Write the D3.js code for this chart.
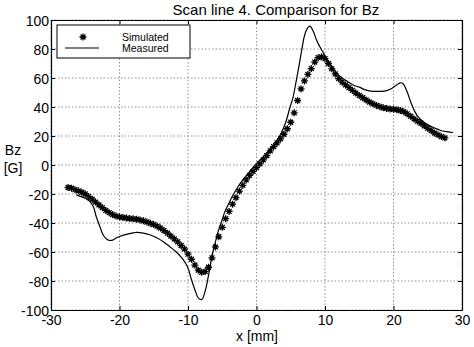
<!DOCTYPE html>
<html><head><meta charset="utf-8">
<script src="https://cdn.jsdelivr.net/npm/d3@7"></script>
<style>body{margin:0;background:#fff}svg{display:block;font-family:"Liberation Sans",Arial,sans-serif}</style>
</head><body><svg id="c" width="474" height="347"></svg>
<script>
const title = "Scan line 4. Comparison for Bz";
const xTicks = [-30,-20,-10,0,10,20,30];
const yTicks = [-100,-80,-60,-40,-20,0,20,40,60,80,100];
const simX = [-27.5,-27,-26.5,-26,-25.5,-25,-24.5,-24,-23.5,-23,-22.5,-22,-21.5,-21,-20.5,-20,-19.5,-19,-18.5,-18,-17.5,-17,-16.5,-16,-15.5,-15,-14.5,-14,-13.5,-13,-12.5,-12,-11.5,-11,-10.5,-10,-9.5,-9,-8.5,-8,-7.5,-7,-6.5,-6,-5.5,-5,-4.5,-4,-3.5,-3,-2.5,-2,-1.5,-1,-0.5,0,0.5,1,1.5,2,2.5,3,3.5,4,4.5,5,5.5,6,6.5,7,7.5,8,8.5,9,9.5,10,10.5,11,11.5,12,12.5,13,13.5,14,14.5,15,15.5,16,16.5,17,17.5,18,18.5,19,19.5,20,20.5,21,21.5,22,22.5,23,23.5,24,24.5,25,25.5,26,26.5,27,27.5];
const simY = [-15.5,-16,-17,-17.8,-18.8,-20,-21.8,-23.6,-25.6,-27.5,-29.4,-31.3,-32.9,-34.2,-35.2,-35.8,-36.2,-36.6,-36.9,-37.1,-37.4,-37.9,-38.5,-39.3,-40.2,-41.1,-42.2,-43.5,-45.2,-47,-49,-51,-53,-55.5,-58,-61.5,-65,-69,-72.5,-74,-73.5,-70.5,-64,-56.5,-49.5,-43,-37,-32,-27,-22.5,-18,-14,-10.3,-7.2,-4.4,-1.8,0.8,3.5,6.5,9.8,12.7,15.2,18,21.2,25,29.5,36,44.5,52.5,58,62.5,66.5,71,74,74.6,73.3,70,66.3,62.8,59.6,57.2,55.2,53.3,51.5,49.6,48,46.4,44.9,43.4,42.2,41.1,40.2,39.5,39,38.6,38.4,38.1,37.6,36.8,35.3,33.6,31.8,30.2,28.8,27,25.3,23.7,22,20.8,19.6,18.7];
const measX = [-26.3,-25.5,-24.8,-24.3,-23.8,-23.4,-22.9,-22.4,-21.9,-21.5,-21,-20.5,-20,-19,-18,-17.5,-16.5,-15.6,-14.5,-13.5,-12.7,-11.7,-10.7,-10,-9.5,-9,-8.5,-8,-7.5,-7,-6.5,-6.1,-5.6,-5.1,-4.6,-4.1,-3.4,-2.7,-2,-1,0,1,1.9,2.8,3.6,4.3,4.9,5.3,5.8,6.3,6.7,7,7.4,7.8,8.3,8.7,9,9.7,10.4,11.2,12.2,13.1,14.1,15.1,16,17,18,19,19.8,20.4,21,21.4,21.9,22.6,23.1,23.6,24.3,25.1,26,26.8,27.8,28.7];
const measY = [-20.6,-22,-23.5,-25.2,-29,-35.5,-42,-48.1,-51,-52,-51.8,-50.4,-49.3,-47.8,-46.8,-46.5,-47,-48.1,-50.3,-53.2,-56.2,-60,-65.3,-71,-79,-86,-91.6,-92.8,-87.1,-76,-63,-55,-46,-39,-32,-27,-20.5,-15,-10.3,-4.5,1.1,5.8,10.3,15.5,21.8,30,40,46,58,71,82,89,94,95.8,92,87,83.7,77.9,72,66.5,61,58.2,55.2,53.5,51.6,50.8,50.8,51.3,53,55,56.7,56,51.5,42.4,37,33.2,30,27.5,25.5,24,23,22.4];
const legendLabels = ["Simulated","Measured"];

const svg = d3.select("#c");
const L=51, R=462, T=20, B=310;
const x = d3.scaleLinear().domain([-30,30]).range([L,R]);
const y = d3.scaleLinear().domain([-100,100]).range([B,T]);
const fmt = d => String(d);

// grid
const g = svg.append("g");
g.selectAll(".gx").data(xTicks).join("line")
  .attr("x1",d=>x(d)).attr("x2",d=>x(d)).attr("y1",T).attr("y2",B)
  .attr("stroke","#777").attr("stroke-width",0.8).attr("stroke-dasharray","1.5,2");
g.selectAll(".gy").data(yTicks).join("line")
  .attr("y1",d=>y(d)).attr("y2",d=>y(d)).attr("x1",L).attr("x2",R)
  .attr("stroke","#777").attr("stroke-width",0.8).attr("stroke-dasharray","1.5,2");

// axes
const ax = svg.append("g").attr("transform",`translate(0,${B})`)
  .call(d3.axisBottom(x).tickValues(xTicks).tickFormat(fmt).tickSize(-4).tickPadding(5).tickSizeOuter(0));
const ay = svg.append("g").attr("transform",`translate(${L},0)`)
  .call(d3.axisLeft(y).tickValues(yTicks).tickFormat(fmt).tickSize(-4).tickPadding(2).tickSizeOuter(0));
svg.append("g").attr("transform",`translate(0,${T})`)
  .call(d3.axisTop(x).tickValues(xTicks).tickSize(-4).tickFormat("").tickSizeOuter(0));
svg.append("g").attr("transform",`translate(${R},0)`)
  .call(d3.axisRight(y).tickValues(yTicks).tickSize(-4).tickFormat("").tickSizeOuter(0));
svg.selectAll(".domain").attr("stroke","#000").attr("stroke-width",1.2);
svg.selectAll(".tick line").attr("stroke","#000");
svg.selectAll(".tick text").attr("font-size",14).attr("fill","#000").attr("font-family","Liberation Sans, Arial, sans-serif");
ay.selectAll(".tick text").attr("dy","0.42em");
ax.selectAll(".tick text").attr("dy","0.71em");

// measured line
const line = d3.line().x(d=>x(d[0])).y(d=>y(d[1])).curve(d3.curveCatmullRom);
svg.append("path").datum(measX.map((v,i)=>[v,measY[i]]))
  .attr("d",line).attr("fill","none").attr("stroke","#000").attr("stroke-width",1.2);

// simulated stars
const star = (s)=>{const a=s*0.7;return `M${-s},0L${s},0M0,${-s}L0,${s}M${-a},${-a}L${a},${a}M${-a},${a}L${a},${-a}`;};
svg.append("g").selectAll("path").data(simX.map((v,i)=>[v,simY[i]])).join("path")
  .attr("transform",d=>`translate(${x(d[0])},${y(d[1])})`)
  .attr("d",star(3.5)).attr("stroke","#000").attr("stroke-width",1.3).attr("fill","none");

// legend
const lg = svg.append("g");
lg.append("rect").attr("x",57).attr("y",25).attr("width",133).attr("height",33)
  .attr("fill","#fff").attr("stroke","#000").attr("stroke-width",1);
lg.append("path").attr("transform","translate(83,37)").attr("d",star(3.5)).attr("stroke","#000").attr("stroke-width",1.3);
lg.append("line").attr("x1",65).attr("x2",99).attr("y1",48).attr("y2",48).attr("stroke","#000").attr("stroke-width",1.2);
lg.selectAll("text").data(legendLabels).join("text")
  .attr("x",122).attr("y",(d,i)=>41+i*10.5).attr("font-size",10.5).text(d=>d);

// titles
svg.append("text").attr("x",276).attr("y",15).attr("text-anchor","middle").attr("font-size",15).text(title);
svg.append("text").attr("x",257).attr("y",341).attr("text-anchor","middle").attr("font-size",14).text("x [mm]");
svg.append("text").attr("x",13).attr("y",155).attr("text-anchor","middle").attr("font-size",14).text("Bz");
svg.append("text").attr("x",13).attr("y",173).attr("text-anchor","middle").attr("font-size",14).text("[G]");
</script></body></html>
